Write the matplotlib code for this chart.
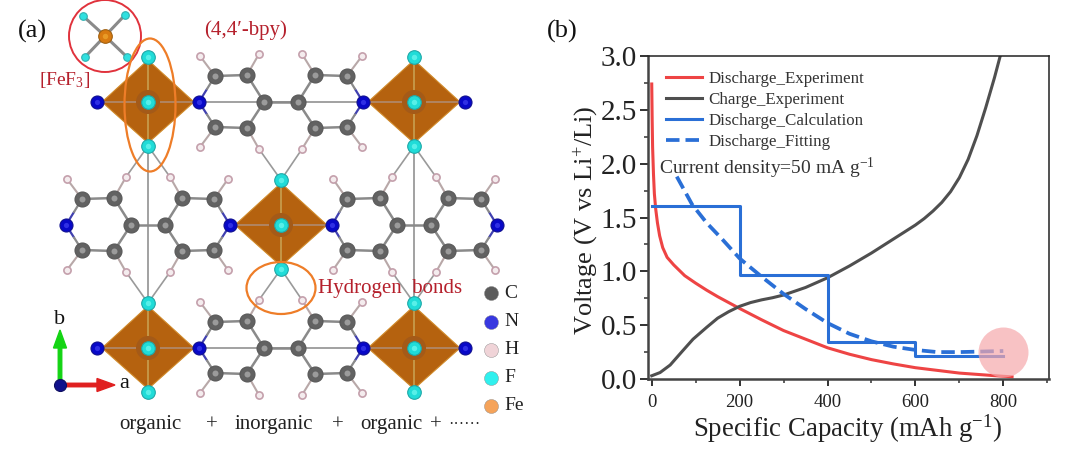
import matplotlib
matplotlib.use('Agg')
import matplotlib.pyplot as plt
from matplotlib.patches import Circle, Ellipse, Polygon, FancyArrow

plt.rcParams['font.family'] = ['Liberation Serif', 'DejaVu Sans']
plt.rcParams['mathtext.fontset'] = 'custom'
plt.rcParams['mathtext.rm'] = 'Liberation Serif'
plt.rcParams['mathtext.it'] = 'Liberation Serif:italic'
plt.rcParams['mathtext.default'] = 'rm'

W, H = 1080, 475

# ---- panel (b) data ----
discharge_x = [0, 1, 2, 4, 6, 9, 13, 18, 25, 35, 50, 75, 100, 125, 150, 175, 200, 250, 300, 350, 400,
               450, 500, 550, 600, 650, 700, 750, 800, 820]
discharge_y = [2.74, 2.4, 2.15, 1.9, 1.72, 1.58, 1.45, 1.33, 1.22, 1.13, 1.06, 0.96, 0.89, 0.825, 0.765,
               0.71, 0.655, 0.55, 0.45, 0.37, 0.29, 0.23, 0.18, 0.14, 0.105, 0.08, 0.055, 0.04, 0.025, 0.02]
charge_x = [0, 19, 42, 70, 94, 125, 150, 175, 200, 225, 250, 275, 300, 350, 400, 450, 500, 550, 600, 620,
            640, 660, 680, 700, 720, 740, 760, 780, 793]
charge_y = [0.03, 0.06, 0.13, 0.26, 0.37, 0.48, 0.565, 0.625, 0.675, 0.71, 0.735, 0.755, 0.78, 0.85, 0.94, 1.05,
            1.17, 1.3, 1.43, 1.49, 1.56, 1.64, 1.74, 1.87, 2.04, 2.26, 2.52, 2.8, 3.0]
calc_x = [0, 200, 200, 400, 400, 600, 600, 800]
calc_y = [1.61, 1.61, 0.97, 0.97, 0.34, 0.34, 0.21, 0.21]
fit_x = [57, 92, 125, 160, 200, 250, 300, 350, 400, 450, 500, 550, 600, 650, 700, 800]
fit_y = [1.88, 1.62, 1.45, 1.3, 1.12, 0.95, 0.79, 0.65, 0.52, 0.42, 0.35, 0.3, 0.27, 0.25, 0.25, 0.26]

# ---- panel (a) structure, in image pixels ----
diamonds = [(148, 102), (414, 102), (281, 225), (148, 348), (414, 348)]
nitrogen = [(97, 102), (199, 102), (363, 102), (465, 102),
            (66, 225), (230, 225), (332, 225), (497, 225),
            (97, 348), (199, 348), (363, 348), (465, 348)]
fluorine = [(148, 57), (148, 146), (414, 57), (414, 146),
            (281, 180), (281, 269),
            (148, 303), (148, 392), (414, 303), (414, 392)]
carbon = [(215, 76), (247, 75), (264, 102), (215, 127), (247, 128),
          (298, 102), (315, 75), (347, 76), (315, 128), (347, 127),
          (82, 199), (114, 198), (131, 225), (82, 250), (114, 251),
          (165, 225), (182, 198), (214, 199), (182, 251), (214, 250),
          (347, 199), (380, 198), (397, 225), (347, 250), (380, 251),
          (431, 225), (448, 198), (481, 199), (448, 251), (481, 250),
          (215, 322), (247, 321), (264, 348), (215, 373), (247, 374),
          (298, 348), (315, 321), (347, 322), (315, 374), (347, 373)]
hydrogen = [(200, 56), (259, 54), (200, 147), (259, 149),
            (302, 54), (362, 56), (302, 149), (362, 147),
            (67, 179), (126, 177), (170, 177), (228, 179),
            (67, 270), (126, 272), (170, 272), (228, 270),
            (333, 179), (392, 177), (436, 177), (495, 179),
            (333, 270), (392, 272), (436, 272), (495, 270),
            (200, 302), (259, 300), (200, 393), (259, 395),
            (302, 300), (362, 302), (302, 395), (362, 393)]
# bonds given as index pairs into the lists above
cc_bonds = [(0, 1), (1, 2), (2, 4), (3, 4), (2, 5), (5, 6), (6, 7), (5, 8), (8, 9),
            (10, 11), (11, 12), (12, 14), (13, 14), (12, 15), (15, 16), (16, 17), (15, 18), (18, 19),
            (20, 21), (21, 22), (22, 24), (23, 24), (22, 25), (25, 26), (26, 27), (25, 28), (28, 29),
            (30, 31), (31, 32), (32, 34), (33, 34), (32, 35), (35, 36), (36, 37), (35, 38), (38, 39)]
nc_bonds = [(1, 0), (1, 3), (2, 7), (2, 9),
            (4, 10), (4, 13), (5, 17), (5, 19),
            (6, 20), (6, 23), (7, 27), (7, 29),
            (9, 30), (9, 33), (10, 37), (10, 39)]
ch_bonds = [(0, 0), (1, 1), (3, 2), (4, 3), (6, 4), (7, 5), (8, 6), (9, 7),
            (10, 8), (11, 9), (16, 10), (17, 11), (13, 12), (14, 13), (18, 14), (19, 15),
            (20, 16), (21, 17), (26, 18), (27, 19), (23, 20), (24, 21), (28, 22), (29, 23),
            (30, 24), (31, 25), (33, 26), (34, 27), (36, 28), (37, 29), (38, 30), (39, 31)]
fh_bonds = [(1, 9), (1, 10), (3, 17), (3, 18), (4, 3), (4, 6), (5, 25), (5, 28),
            (6, 13), (6, 14), (8, 21), (8, 22)]
axis_lines = [((199, 102), (363, 102)), ((199, 348), (363, 348)),
              ((148, 146), (148, 303)), ((414, 146), (414, 303))]
legend_names = ['C', 'N', 'H', 'F', 'Fe']
legend_y = [293, 322, 350, 378, 406]
legend_colors = ['#5c5c5c', '#3838e0', '#f0d4d8', '#30f0ee', '#f5a35a']
cluster_center = (105, 36)
cluster_f = [(83, 16), (125, 15), (85, 57), (127, 57)]
bottom_labels = ['organic', '+', 'inorganic', '+', 'organic', '+']
bottom_label_x = [150, 212, 274, 338, 391, 436]

fig = plt.figure(figsize=(W / 100, H / 100), dpi=100)

# full-figure axes in pixel units for the crystal structure
bg = fig.add_axes([0, 0, 1, 1])
bg.set_xlim(0, W)
bg.set_ylim(H, 0)
bg.axis('off')


def seg(p, q, color, lw, z=2):
    bg.plot([p[0], q[0]], [p[1], q[1]], color=color, lw=lw, zorder=z, solid_capstyle='round')


def atoms(points, r, face, edge, shine=None, z=5, lw=0.8):
    xs = [p[0] for p in points]
    ys = [p[1] for p in points]
    bg.scatter(xs, ys, s=(2 * r * 0.72) ** 2, c=face, edgecolors=edge, linewidths=lw, zorder=z)
    if shine:
        bg.scatter(xs, ys, s=(0.8 * r * 0.72) ** 2, c=shine, linewidths=0, zorder=z + 0.1, alpha=0.7)


for (a, b) in axis_lines:
    seg(a, b, '#9a9a9a', 1.3)
for (i, j) in cc_bonds:
    seg(carbon[i], carbon[j], '#8a8a8a', 1.8)
for (n, c) in nc_bonds:
    mid = ((nitrogen[n][0] + carbon[c][0]) / 2, (nitrogen[n][1] + carbon[c][1]) / 2)
    seg(nitrogen[n], mid, '#4040b0', 1.6)
    seg(mid, carbon[c], '#8a8a8a', 1.6)
for (c, h) in ch_bonds:
    seg(carbon[c], hydrogen[h], '#b8a8a8', 1.5)
for (f, h) in fh_bonds:
    seg(fluorine[f], hydrogen[h], '#9a9a9a', 1.2)

for (cx, cy) in diamonds:
    bg.add_patch(Polygon([(cx, cy - 42), (cx + 46, cy), (cx, cy + 41), (cx - 46, cy)],
                         closed=True, facecolor='#b5620f', edgecolor='#d08a2a', lw=0.8, zorder=3))
    seg((cx - 46, cy), (cx + 46, cy), '#b08a70', 1.2, z=3.2)
    seg((cx, cy - 42), (cx, cy + 41), '#c8a050', 1.2, z=3.2)
    bg.add_patch(Circle((cx, cy), 12, facecolor='#a45a18', edgecolor='none', zorder=3.3))

atoms(carbon, 7.5, '#626262', '#585858', '#b4b4b4')
atoms(nitrogen, 6.5, '#0808c8', '#101090', '#4040f0')
atoms(hydrogen, 3.6, '#f4ecee', '#c4a0ac', lw=1.2)
atoms(fluorine, 6.8, '#20dcd8', '#20a8a8', '#70f8f0')
atoms(diamonds, 6.8, '#20dcd8', '#20a8a8', '#70f8f0')

# FeF3 inset
bg.add_patch(Circle(cluster_center, 36, facecolor='white', edgecolor='#e0323c', lw=1.4, zorder=6))
for p in cluster_f:
    seg(cluster_center, p, '#8a8a8a', 2.2, z=6.1)
atoms(cluster_f, 3.8, '#30e0e0', '#30b0b0', z=6.2)
atoms([cluster_center], 6.8, '#d87a10', '#a06010', '#f0a830', z=6.2)

# orange highlight ellipses
bg.add_patch(Ellipse((150, 105), 51, 133, angle=0, fill=False, edgecolor='#ee7d28', lw=1.6, zorder=7))
bg.add_patch(Ellipse((281, 288), 69, 52, fill=False, edgecolor='#ee7d28', lw=1.6, zorder=7))

# axis triad
bg.add_patch(FancyArrow(60, 385, 0, -55, width=3.5, head_width=13, head_length=18,
                        length_includes_head=True, color='#14d414', zorder=8))
bg.add_patch(FancyArrow(60, 385, 55, 0, width=3.5, head_width=13, head_length=18,
                        length_includes_head=True, color='#e02020', zorder=8))
atoms([(60, 385)], 6, '#10108c', '#101060', z=9)

# labels of panel (a)
red = '#b5202c'
bg.text(18, 31, '(a)', fontsize=19, va='center', color='#111111')
bg.text(547, 31, '(b)', fontsize=19, va='center', color='#111111')
bg.text(246, 30, "(4,4′-bpy)", fontsize=15, ha='center', va='center', color=red)
bg.text(65, 80, r'[FeF$_3$]', fontsize=14, ha='center', va='center', color=red)
bg.text(390, 289, 'Hydrogen  bonds', fontsize=15, ha='center', va='center', color=red, zorder=9)
bg.text(60, 320, 'b', fontsize=16, ha='center', va='center', color='#111111')
bg.text(124, 384, 'a', fontsize=16, ha='center', va='center', color='#111111')
for (name, y, c) in zip(legend_names, legend_y, legend_colors):
    bg.scatter([491], [y], s=(2 * 7 * 0.72) ** 2, c=c, edgecolors='#888888', linewidths=0.3, zorder=5)
    bg.text(504, y, name, fontsize=14, va='center', color='#222222')
for (t, x) in zip(bottom_labels, bottom_label_x):
    bg.text(x, 425, t, fontsize=15, ha='center', va='center', color='#222222')
bg.text(464, 425, '······', fontsize=11.5, ha='center', va='center', color='#222222')

# panel (b)
left, right, top, bottom = 648, 1049, 56, 379
ax = fig.add_axes([left / W, 1 - bottom / H, (right - left) / W, (bottom - top) / H])
ax.patch.set_alpha(0)
l1, = ax.plot(discharge_x, discharge_y, color='#ee4444', lw=2.2, label='Discharge_Experiment')
l2, = ax.plot(charge_x, charge_y, color='#4f4f4f', lw=2.2, label='Charge_Experiment')
l3, = ax.plot(calc_x, calc_y, color='#2a6fd6', lw=2.2, label='Discharge_Calculation')
l4, = ax.plot(fit_x, fit_y, color='#2a6fd6', lw=2.7, ls=(0, (3.6, 1.6)), label='Discharge_Fitting')
ax.scatter([800], [0.25], s=(2 * 25 * 0.72) ** 2, color='#f6a8ac', alpha=0.7, linewidths=0, zorder=4)

ax.set_xlim(-8.5, 904)
ax.set_ylim(0, 3.0)
ax.set_xticks([0, 200, 400, 600, 800])
ax.set_xticks([100, 300, 500, 700, 900], minor=True)
ax.set_yticks([0, 0.5, 1.0, 1.5, 2.0, 2.5, 3.0])
ax.set_yticks([0.25, 0.75, 1.25, 1.75, 2.25, 2.75], minor=True)
ax.tick_params(axis='y', which='major', labelsize=21, length=6, width=1.3, pad=2, colors='#222222')
ax.tick_params(axis='x', which='major', labelsize=13.5, length=5, width=1.3, pad=6, colors='#222222')
ax.tick_params(which='minor', length=3, width=1.1, colors='#333333')
for side in ['left', 'bottom']:
    ax.spines[side].set_linewidth(1.8)
    ax.spines[side].set_color('#444444')
for side in ['top', 'right']:
    ax.spines[side].set_linewidth(1.1)
    ax.spines[side].set_color('#222222')
ax.set_xlabel('Specific Capacity (mAh g$^{-1}$)', fontsize=19.3, color='#222222')
ax.set_ylabel('Voltage (V vs Li$^{+}$/Li)', fontsize=19, color='#222222')
ax.xaxis.set_label_coords((848 - left) / (right - left), -(429 - bottom) / (bottom - top), )
ax.xaxis.label.set_va('center')
ax.yaxis.set_label_coords(-(648 - 586) / (right - left), (379 - 220) / (bottom - top))
ax.yaxis.label.set_va('center')

ax.legend(handles=[l1, l2, l3, l4], loc='upper left', bbox_to_anchor=(0.045, 0.954), frameon=False,
          fontsize=12.2, handlelength=2.1, labelspacing=0.3, handletextpad=0.4, borderpad=0,
          borderaxespad=0, labelcolor='#333333')
ax.text(17, 1.96, 'Current density=50 mA g$^{-1}$', fontsize=14, va='center', color='#333333')

fig.savefig('out.png', dpi=100)
